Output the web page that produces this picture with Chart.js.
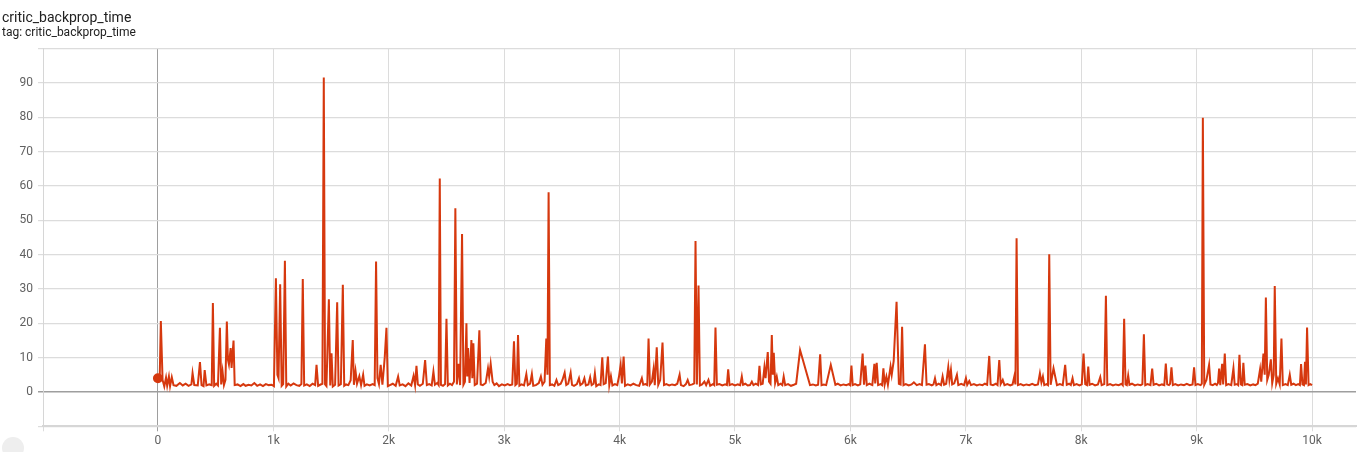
<!DOCTYPE html>
<html>
<head>
<meta charset="utf-8">
<script src="https://cdn.jsdelivr.net/npm/chart.js@4/dist/chart.umd.min.js"></script>
<style>
  body { margin: 0; background: #fff; font-family: Roboto, "Noto Sans", sans-serif; }
  #titulo { position: absolute; left: 2px; top: 9px; font-size: 14px; color: #212121; }
  #tag { position: absolute; left: 2px; top: 25px; font-size: 12px; color: #212121; }
  #caja { position: absolute; left: 0; top: 0; width: 1362px; height: 452px; }
  #boton { position: absolute; left: 2px; top: 437px; width: 22px; height: 22px; border-radius: 50%; background: #eeeeee; }
</style>
</head>
<body>
<div id="caja"><canvas id="grafica" width="1362" height="452"></canvas></div>
<div id="titulo">critic_backprop_time</div>
<div id="tag">tag: critic_backprop_time</div>
<div id="boton"></div>
<script>
// Puntos: [paso, tiempo]
var tramo0 = [[0,4.0],[15,3.8],[25,20.7],[40,3.5],[55,1.6],[70,4.2],[80,1.8],[95,4.5],[105,1.7],[120,4.3],[135,2.0],[160,1.8],[190,2.6],[215,1.9],[240,2.4],[265,1.8],[290,2.2],[300,5.5],[315,2.0],[345,1.9],[364,8.7],[378,2.0],[395,1.7],[405,6.4],[420,1.9],[445,2.2],[466,2.0],[476,25.9],[487,1.8],[505,2.4],[520,1.9],[537,18.7],[548,2.2],[560,5.9],[572,2.0],[585,3.5],[597,20.5],[606,9.5],[615,8.0],[630,12.8],[638,7.0],[655,15.0],[665,2.0],[690,2.2],[715,1.7],[740,2.3],[760,1.8],[785,2.1],[810,1.9],[835,2.6],[860,1.8],[885,2.2],[910,1.7],[935,2.3],[960,2.0],[985,2.1],[1005,1.7],[1022,33.1],[1035,5.0],[1045,4.0],[1059,31.4],[1072,1.8],[1085,2.3],[1100,38.2],[1112,1.6],[1130,2.4],[1150,1.9],[1175,2.5],[1200,2.0],[1225,1.8],[1243,2.3],[1255,32.9],[1267,1.9],[1290,2.2],[1315,1.7],[1340,2.4],[1362,2.0],[1374,7.9],[1388,1.8],[1405,2.1],[1425,2.4],[1437,91.6],[1448,2.2],[1460,1.7],[1481,27.0],[1493,1.9],[1504,11.3],[1515,1.6],[1535,2.1],[1553,26.1],[1565,1.9],[1585,2.3],[1602,31.2],[1614,1.8],[1630,2.2],[1650,2.0],[1670,3.4],[1688,15.1],[1698,2.1],[1712,6.1],[1725,2.4],[1745,4.6],[1760,2.0],[1778,5.0],[1790,1.8],[1810,2.2],[1835,1.9],[1860,2.3],[1878,2.0],[1890,38.0],[1902,4.0],[1915,2.3],[1930,7.9],[1945,2.1],[1965,10.0],[1980,18.7],[1992,1.7]];
var tramo1 = [[2010,2.0],[2035,2.4],[2060,1.8],[2081,4.5],[2095,1.9],[2120,2.2],[2145,1.7],[2170,2.5],[2195,1.9],[2215,4.7],[2228,2.0],[2240,7.6],[2252,2.2],[2270,1.8],[2295,2.4],[2315,9.3],[2330,2.0],[2350,2.3],[2372,1.9],[2387,5.9],[2400,2.1],[2420,2.6],[2432,2.0],[2442,62.2],[2452,2.1],[2470,1.8],[2488,2.3],[2500,21.3],[2512,1.9],[2530,2.4],[2548,2.0],[2565,3.0],[2577,53.5],[2590,2.2],[2605,8.2],[2618,2.0],[2635,46.0],[2647,2.1],[2660,3.0],[2673,20.0],[2680,4.5],[2687,12.8],[2700,2.6],[2716,15.1],[2724,4.0],[2733,14.2],[2745,2.0],[2765,2.4],[2785,18.0],[2797,2.2],[2815,2.0],[2840,2.6],[2860,6.9],[2870,4.5],[2883,8.2],[2900,3.0],[2915,2.0],[2935,2.5],[2955,1.7],[2980,2.2],[3005,1.9],[3030,2.3],[3050,2.0],[3070,2.2],[3085,14.8],[3097,2.0],[3110,2.4],[3120,16.6],[3132,1.8],[3150,2.2],[3172,1.9],[3192,5.2],[3205,2.0],[3225,2.4],[3240,5.2],[3252,1.8],[3275,2.0],[3300,2.6],[3318,4.5],[3332,2.1],[3350,3.0],[3365,15.6],[3375,5.0],[3385,58.2],[3396,2.0],[3415,2.2],[3435,1.8],[3453,3.5],[3468,2.0],[3490,2.4],[3505,3.5],[3524,5.6],[3538,2.0],[3555,2.4],[3576,5.6],[3588,2.1],[3605,1.8],[3630,2.3],[3648,4.0],[3660,2.0],[3680,2.5],[3695,4.0],[3708,1.9],[3730,2.2],[3745,4.3],[3758,2.0],[3775,2.4],[3786,5.4],[3798,1.7],[3820,2.2],[3835,2.0],[3850,10.1],[3862,2.3],[3880,2.6],[3899,10.3],[3911,2.0],[3925,4.6],[3938,1.9],[3960,2.3],[3980,2.0],[3995,4.5]];
var tramo2 = [[4009,7.9],[4020,2.5],[4035,10.3],[4047,1.8],[4070,2.2],[4095,1.9],[4120,2.4],[4145,2.0],[4170,1.8],[4193,4.0],[4205,2.1],[4225,2.3],[4240,2.0],[4251,15.6],[4263,2.2],[4280,3.0],[4295,6.8],[4305,2.0],[4322,13.0],[4335,2.1],[4352,3.5],[4372,14.4],[4385,2.0],[4405,2.3],[4430,1.9],[4455,2.2],[4480,2.0],[4500,2.4],[4520,5.0],[4532,2.0],[4555,1.7],[4575,2.3],[4590,3.5],[4605,2.0],[4630,2.2],[4647,2.5],[4658,44.0],[4670,2.2],[4684,31.0],[4696,1.9],[4715,2.2],[4735,3.0],[4750,2.0],[4770,3.5],[4785,1.8],[4810,2.3],[4820,2.0],[4831,18.8],[4843,2.1],[4865,2.3],[4890,1.9],[4915,2.2],[4930,2.0],[4941,6.6],[4953,2.0],[4975,2.3],[5000,1.9],[5025,2.2],[5045,2.0],[5059,4.5],[5070,2.1],[5090,2.4],[5110,1.9],[5130,2.0],[5146,3.0],[5160,2.0],[5180,2.4],[5200,2.0],[5212,7.6],[5224,2.2],[5240,2.4],[5255,7.2],[5265,4.0],[5284,11.6],[5295,3.0],[5308,2.4],[5319,16.6],[5328,5.0],[5336,11.4],[5348,2.6],[5362,4.5],[5375,2.0],[5395,2.4],[5410,2.0],[5422,4.5],[5435,2.0],[5460,2.3],[5485,1.8],[5510,2.1],[5530,2.4],[5564,12.2],[5650,2.0],[5675,2.2],[5700,1.9],[5720,2.1],[5738,11.0],[5750,2.0],[5770,2.2],[5790,2.0],[5830,7.9],[5870,2.1],[5890,2.4],[5915,1.9],[5940,2.2],[5965,2.0],[5985,2.3],[5998,2.0]];
var tramo3 = [[6009,7.7],[6020,2.0],[6040,2.3],[6065,1.9],[6085,2.2],[6106,11.2],[6118,2.1],[6130,7.7],[6142,2.0],[6165,2.4],[6190,2.0],[6208,8.2],[6215,2.5],[6228,8.5],[6240,2.0],[6262,2.3],[6275,2.0],[6286,6.9],[6297,2.2],[6312,4.5],[6325,2.1],[6348,7.4],[6358,5.0],[6375,9.0],[6400,26.3],[6420,2.4],[6435,2.2],[6448,19.0],[6460,2.0],[6480,2.3],[6505,1.9],[6530,2.2],[6550,2.8],[6575,2.0],[6600,2.3],[6620,2.0],[6646,13.9],[6660,2.1],[6680,2.3],[6705,1.9],[6720,2.2],[6733,4.0],[6745,2.0],[6765,2.4],[6785,2.0],[6799,4.5],[6812,2.1],[6830,2.4],[6848,7.2],[6858,3.5],[6871,6.4],[6882,2.2],[6900,2.5],[6923,5.0],[6935,2.0],[6960,2.4],[6985,2.0],[7001,4.0],[7012,2.1],[7030,3.2],[7045,2.0],[7070,2.3],[7095,1.9],[7120,2.2],[7145,2.0],[7165,2.4],[7185,2.1],[7203,10.5],[7215,2.2],[7235,2.0],[7260,2.4],[7275,2.0],[7290,9.3],[7302,2.3],[7320,3.5],[7335,2.0],[7360,2.3],[7385,1.9],[7405,2.2],[7420,4.5],[7430,2.2],[7440,44.8],[7452,2.0],[7475,2.3],[7500,1.9],[7525,2.2],[7550,2.0],[7575,2.4],[7600,2.0],[7625,2.2],[7642,5.4],[7655,2.8],[7668,4.5],[7680,2.0],[7700,2.3],[7712,2.0],[7723,40.1],[7735,2.1],[7760,6.9],[7790,2.0],[7815,2.3],[7840,2.0],[7861,7.9],[7875,2.1],[7895,2.4],[7910,2.0],[7925,4.0],[7937,2.0],[7960,2.3],[7985,1.9]];
var tramo4 = [[8005,2.2],[8020,11.2],[8035,2.3],[8050,2.0],[8061,7.4],[8072,2.1],[8095,2.4],[8120,1.9],[8145,2.2],[8165,4.3],[8177,2.0],[8200,2.3],[8214,28.0],[8226,2.0],[8250,2.3],[8275,1.9],[8300,2.2],[8325,2.0],[8350,2.4],[8360,2.0],[8372,21.3],[8384,2.2],[8395,2.0],[8407,4.8],[8418,2.1],[8440,2.4],[8465,1.9],[8490,2.2],[8515,2.0],[8530,2.3],[8543,16.8],[8555,2.0],[8575,2.3],[8600,2.0],[8615,6.8],[8627,2.1],[8650,2.4],[8675,1.9],[8700,2.2],[8720,2.0],[8733,8.3],[8745,2.2],[8760,2.0],[8770,2.4],[8782,7.2],[8794,2.0],[8815,2.3],[8840,1.9],[8865,2.2],[8890,2.0],[8915,2.4],[8940,2.0],[8965,2.2],[8978,7.2],[8990,2.0],[9010,2.3],[9035,2.0],[9045,2.4],[9054,79.9],[9066,2.1],[9085,3.5],[9108,7.9],[9120,2.2],[9140,2.0],[9160,2.4],[9175,2.0],[9185,2.6],[9195,6.8],[9205,2.0],[9221,8.2],[9230,2.2],[9244,11.2],[9256,2.0],[9275,2.3],[9300,2.0],[9319,6.9],[9330,2.1],[9350,2.3],[9360,2.0],[9371,10.8],[9383,2.2],[9395,2.0],[9405,8.5],[9417,2.1],[9440,2.3],[9465,1.9],[9490,2.2],[9510,2.0],[9530,2.4],[9550,6.6],[9560,3.0],[9579,11.2],[9590,5.0],[9600,27.5],[9612,3.5],[9625,5.0],[9643,9.5],[9655,2.6],[9668,5.0],[9677,30.9],[9690,2.4],[9705,4.0],[9720,2.2],[9735,15.6],[9747,2.0],[9770,2.3],[9790,2.0],[9807,5.0],[9820,2.1],[9840,2.4],[9860,2.0],[9880,2.3],[9895,2.0],[9905,8.1],[9917,2.2],[9930,2.0],[9939,8.8],[9947,2.2],[9957,18.8],[9970,2.0],[9985,2.3],[10000,2.0]];

var pasosEtiqueta = [0, 1000, 2000, 3000, 4000, 5000, 6000, 7000, 8000, 9000, 10000];
var valoresEtiqueta = [0, 10, 20, 30, 40, 50, 60, 70, 80, 90];

var puntos = [];
for (let t of [tramo0, tramo1, tramo2, tramo3, tramo4]) {
  for (let p of t) {
    puntos.push({x: p[0], y: p[1]});
  }
}

var colorLinea = "rgb(214, 56, 14)";

var ctx = document.getElementById("grafica").getContext("2d");
var miGrafica = new Chart(ctx, {
  type: "line",
  data: {
    datasets: [{
      label: "critic_backprop_time",
      data: puntos,
      borderColor: colorLinea,
      backgroundColor: colorLinea,
      borderWidth: 2,
      pointRadius: function (c) { return c.dataIndex === 0 ? 4 : 0; },
      pointHoverRadius: 0,
      tension: 0,
      fill: false
    }]
  },
  options: {
    responsive: false,
    animation: false,
    layout: { padding: { top: 48.7, left: 0, right: 0, bottom: 0 } },
    plugins: { legend: { display: false }, tooltip: { enabled: false } },
    scales: {
      x: {
        type: "linear",
        min: -996,
        max: 10381,
        afterFit: function (s) { s.height = 25.7; },
        afterBuildTicks: function (s) {
          s.ticks = [-996].concat(pasosEtiqueta).map(function (v) { return {value: v}; });
        },
        ticks: {
          autoSkip: false,
          maxRotation: 0,
          padding: 2,
          color: "#616161",
          font: { family: "Roboto", size: 12 },
          callback: function (v) {
            if (pasosEtiqueta.indexOf(v) < 0) return "";
            return v === 0 ? "0" : (v / 1000) + "k";
          }
        },
        grid: {
          color: function (c) { return c.tick && c.tick.value === 0 ? "#9e9e9e" : "#dcdcdc"; },
          lineWidth: 1,
          tickLength: 5
        },
        border: { color: "#d6d6d6", width: 2 }
      },
      y: {
        type: "linear",
        min: -10,
        max: 100,
        afterFit: function (s) { s.width = 43; },
        afterBuildTicks: function (s) {
          s.ticks = [-10].concat(valoresEtiqueta).concat([100]).map(function (v) { return {value: v}; });
        },
        ticks: {
          padding: 5,
          color: "#616161",
          font: { family: "Roboto", size: 12 },
          callback: function (v) { return valoresEtiqueta.indexOf(v) < 0 ? "" : String(v); }
        },
        grid: {
          color: function (c) { return c.tick && c.tick.value === 0 ? "#9e9e9e" : "#dcdcdc"; },
          lineWidth: function (c) { return c.tick && c.tick.value === 0 ? 1.5 : 1.2; },
          tickLength: 5
        },
        border: { color: "#d6d6d6", width: 1 }
      }
    }
  }
});
</script>
</body>
</html>
